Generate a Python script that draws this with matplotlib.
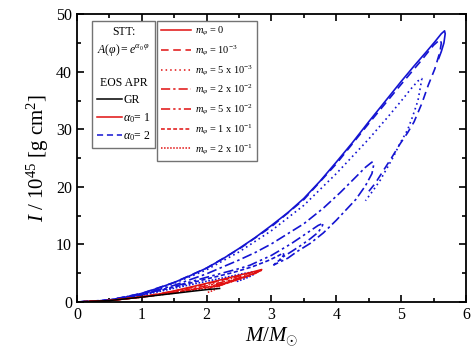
import matplotlib
matplotlib.use("Agg")
import matplotlib.pyplot as plt
from matplotlib.lines import Line2D
from matplotlib.ticker import MultipleLocator

plt.rcParams["font.family"] = ["Liberation Serif", "DejaVu Serif"]
plt.rcParams["mathtext.fontset"] = "custom"
plt.rcParams["mathtext.rm"] = "Liberation Serif"
plt.rcParams["mathtext.it"] = "Liberation Serif:italic"
plt.rcParams["mathtext.bf"] = "Liberation Serif:bold"

BLUE = "#1414d2"
RED = "#e01010"

# GR, EOS APR
gr_M = [0, 0.5, 1.0, 1.5, 1.8, 2.0, 2.2]
gr_I = [0, 0.25, 0.85, 1.5, 1.9, 2.15, 2.35]

# alpha0 = 2 (blue), one curve per scalar mass
a2_m0_M = [0, 0.25, 0.5, 0.75, 1.0, 1.25, 1.5, 1.75, 2.0, 2.25, 2.5, 2.75, 3.0, 3.25, 3.5, 3.75,
           4.0, 4.25, 4.5, 4.75, 5.0, 5.2, 5.4, 5.52, 5.62, 5.67, 5.68, 5.66, 5.62, 5.58]
a2_m0_I = [0, 0.08, 0.35, 0.85, 1.5, 2.4, 3.4, 4.6, 5.9, 7.5, 9.3, 11.2, 13.3, 15.5, 18.0, 21.0,
           24.3, 27.7, 31.3, 34.8, 38.3, 41.0, 43.6, 45.2, 46.6, 47.1, 46.6, 45.0, 43.5, 42.3]
a2_m1_M = [0, 0.5, 1, 1.5, 2, 2.5, 3, 3.5, 4, 4.5, 5, 5.3, 5.5, 5.6, 5.62, 5.6, 5.52, 5.42,
           5.32, 5.2, 5.1, 4.98, 4.85, 4.73, 4.6, 4.5]
a2_m1_I = [0, 0.35, 1.5, 3.4, 5.9, 9.2, 13.1, 17.8, 24.0, 31.0, 37.8, 41.8, 44.6, 45.6, 45.0,
           43.5, 40.5, 37.7, 34.5, 31.3, 29.4, 27.4, 25, 22.9, 20.6, 19.2]
a2_m2_M = [0, 0.5, 1, 1.5, 2, 2.5, 3, 3.5, 4, 4.5, 4.8, 5.0, 5.15, 5.26, 5.32, 5.3, 5.26,
           5.18, 5.1, 4.98, 4.88, 4.78, 4.68, 4.57, 4.45]
a2_m2_I = [0, 0.33, 1.45, 3.25, 5.6, 8.7, 12.4, 16.8, 22.3, 28.3, 32.2, 34.9, 37.0, 38.4, 38.8,
           37.5, 35.0, 32.3, 29.9, 27.5, 25.2, 23.2, 21.2, 19.4, 17.6]
a2_m3_M = [0, 0.5, 1, 1.5, 2, 2.5, 2.75, 3, 3.5, 3.8, 4.06, 4.3, 4.45, 4.55, 4.58, 4.55, 4.45,
           4.3, 4.15, 4.0, 3.8, 3.6, 3.4, 3.25, 3.1, 3.03]
a2_m3_I = [0, 0.3, 1.35, 2.9, 4.9, 7.3, 8.6, 10.1, 13.6, 16.3, 19.0, 21.7, 23.4, 24.3, 24.0,
           22.3, 20.2, 17.8, 16.0, 14.2, 12.0, 10.2, 8.8, 7.6, 6.8, 6.4]
a2_m4_M = [0, 0.5, 1, 1.5, 2, 2.5, 2.67, 3, 3.3, 3.55, 3.72, 3.8, 3.78, 3.72, 3.6, 3.45, 3.3,
           3.2, 3.13, 3.18]
a2_m4_I = [0, 0.3, 1.3, 2.7, 4.3, 5.8, 6.4, 8.1, 10.1, 12.0, 13.3, 13.7, 13.1, 12.1, 11.0, 9.8,
           8.7, 8.0, 7.4, 7.0]
a2_m5_M = [0, 0.5, 1, 1.5, 2, 2.4, 2.7, 2.95, 3.1, 3.18, 3.19, 3.15, 3.08, 3.03]
a2_m5_I = [0, 0.3, 1.25, 2.6, 4.0, 5.1, 6.1, 7.2, 8.0, 8.5, 8.2, 7.5, 6.9, 6.4]
a2_m6_M = [0, 0.5, 1, 1.5, 2, 2.3, 2.55, 2.7, 2.75, 2.7, 2.6, 2.45]
a2_m6_I = [0, 0.28, 1.15, 2.4, 3.6, 4.3, 4.9, 5.2, 5.0, 4.6, 4.1, 3.5]

# alpha0 = 1 (red)
a1_m0_M = [0, 0.5, 1.0, 1.25, 1.5, 1.75, 2.0, 2.25, 2.5, 2.7, 2.8, 2.85, 2.84, 2.78, 2.65,
           2.45, 2.3, 2.2]
a1_m0_I = [0, 0.25, 0.9, 1.35, 1.95, 2.6, 3.25, 3.95, 4.65, 5.2, 5.5, 5.65, 5.45, 5.2, 4.6,
           3.9, 3.3, 2.9]
a1_m1_M = [0, 0.5, 1.0, 1.5, 2.0, 2.5, 2.7, 2.78, 2.8, 2.76, 2.6, 2.4, 2.25]
a1_m1_I = [0, 0.25, 0.9, 1.9, 3.15, 4.5, 5.1, 5.35, 5.3, 5.0, 4.4, 3.7, 3.1]
a1_m2_M = [0, 0.5, 1.0, 1.5, 2.0, 2.4, 2.6, 2.7, 2.72, 2.66, 2.5, 2.3, 2.15]
a1_m2_I = [0, 0.25, 0.88, 1.85, 3.0, 4.1, 4.7, 4.95, 4.85, 4.5, 3.9, 3.2, 2.8]
a1_m3_M = [0, 0.5, 1.0, 1.5, 2.0, 2.3, 2.5, 2.6, 2.58, 2.45, 2.3, 2.15]
a1_m3_I = [0, 0.25, 0.87, 1.75, 2.8, 3.6, 4.2, 4.45, 4.25, 3.8, 3.2, 2.7]
a1_m4_M = [0, 0.5, 1.0, 1.5, 2.0, 2.25, 2.4, 2.45, 2.38, 2.2, 2.05]
a1_m4_I = [0, 0.25, 0.86, 1.65, 2.6, 3.25, 3.7, 3.85, 3.6, 3.0, 2.5]
a1_m5_M = [0, 0.5, 1.0, 1.5, 2.0, 2.2, 2.3, 2.25, 2.1, 2.0]
a1_m5_I = [0, 0.25, 0.85, 1.6, 2.5, 2.95, 3.25, 3.05, 2.6, 2.2]
a1_m6_M = [0, 0.5, 1.0, 1.5, 1.9, 2.1, 2.2, 2.18, 2.1, 2.0]
a1_m6_I = [0, 0.25, 0.85, 1.55, 2.2, 2.6, 2.8, 2.5, 2.0, 1.6]

mass_labels = [r"$m_\varphi$ = 0", r"$m_\varphi$ = 10$^{-3}$", r"$m_\varphi$ = 5 x 10$^{-3}$",
               r"$m_\varphi$ = 2 x 10$^{-2}$", r"$m_\varphi$ = 5 x 10$^{-2}$",
               r"$m_\varphi$ = 1 x 10$^{-1}$", r"$m_\varphi$ = 2 x 10$^{-1}$"]
styles = ["-", (0, (5, 3)), (0, (1, 2)), (0, (6, 2, 1.5, 2)), (0, (6, 2, 1.5, 2, 1.5, 2)),
          (0, (2.5, 1.5)), (0, (1, 1))]

a2_curves = [(a2_m0_M, a2_m0_I), (a2_m1_M, a2_m1_I), (a2_m2_M, a2_m2_I), (a2_m3_M, a2_m3_I),
             (a2_m4_M, a2_m4_I), (a2_m5_M, a2_m5_I), (a2_m6_M, a2_m6_I)]
a1_curves = [(a1_m0_M, a1_m0_I), (a1_m1_M, a1_m1_I), (a1_m2_M, a1_m2_I), (a1_m3_M, a1_m3_I),
             (a1_m4_M, a1_m4_I), (a1_m5_M, a1_m5_I), (a1_m6_M, a1_m6_I)]

fig = plt.figure(figsize=(4.74, 3.63), dpi=100)
ax = fig.add_axes([0.1624, 0.168, 0.8206, 0.793])

for (m, i), ls in zip(a2_curves, styles):
    ax.plot(m, i, color=BLUE, ls=ls, lw=1.2)
for (m, i), ls in zip(a1_curves, styles):
    ax.plot(m, i, color=RED, ls=ls, lw=1.1)
ax.plot(gr_M, gr_I, color="black", lw=1.1)

ax.set_xlim(0, 6)
ax.set_ylim(0, 50)
ax.xaxis.set_major_locator(MultipleLocator(1))
ax.xaxis.set_minor_locator(MultipleLocator(0.5))
ax.yaxis.set_major_locator(MultipleLocator(10))
ax.yaxis.set_minor_locator(MultipleLocator(5))
ax.tick_params(which="both", direction="in", top=True, right=True, labelsize=11.5, width=1.2)
ax.tick_params(which="major", length=5)
ax.tick_params(which="minor", length=3)
for s in ax.spines.values():
    s.set_linewidth(1.3)

ax.set_xlabel(r"$M/M_{\odot}$", fontsize=15, labelpad=2)
ax.set_ylabel(r"$I$ / 10$^{45}$ [g cm$^2$]", fontsize=15, labelpad=4)

h_right = [Line2D([], [], color=RED, lw=1.1, ls=ls) for ls in styles]
leg2 = ax.legend(h_right, mass_labels, loc="upper left", bbox_to_anchor=(0.206, 0.976),
                 borderaxespad=0, fontsize=7.5, fancybox=False, edgecolor="0.45",
                 framealpha=1, handlelength=2.9, handletextpad=0.3, labelspacing=0.5,
                 borderpad=0.4)
ax.add_artist(leg2)

h_left = [Line2D([], [], color="black", lw=1.1),
          Line2D([], [], color=RED, lw=1.1),
          Line2D([], [], color=BLUE, lw=1.1, ls=(0, (4, 2.5)))]
leg1 = ax.legend(h_left, ["GR", r"$\alpha_0$= 1", r"$\alpha_0$= 2"],
                 title="STT:\n" + r"$A(\varphi) = e^{\alpha_0\,\varphi}$" + "\n\nEOS APR",
                 loc="upper left", bbox_to_anchor=(0.0386, 0.976), borderaxespad=0,
                 fontsize=8.5, title_fontsize=8.5, fancybox=False, edgecolor="0.45",
                 framealpha=1, handlelength=2.1, handletextpad=0.15, labelspacing=0.4,
                 borderpad=0.4)
leg1.get_title().set_linespacing(1.4)
leg1.get_title().set_multialignment("center")

fig.savefig("out.png", dpi=100)
